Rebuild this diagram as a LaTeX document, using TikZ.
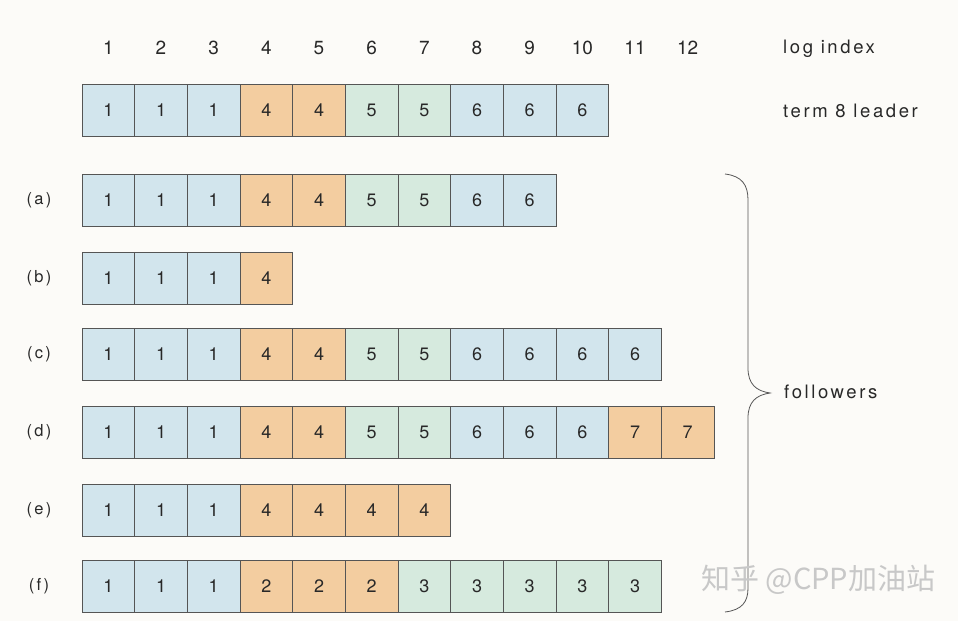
\documentclass[tikz,border=0pt]{standalone}
\usepackage{fontspec}
\setmainfont{TeX Gyre Heros}
\newfontfamily\lblfont[LetterSpace=14]{TeX Gyre Heros}
\newfontfamily\rowfont[LetterSpace=14]{TeX Gyre Heros}
\newfontfamily\cjkfont{Noto Sans CJK SC}
\definecolor{bgc}{RGB}{252,251,248}
\definecolor{bordc}{RGB}{85,85,85}
\definecolor{cblue}{RGB}{210,229,237}
\definecolor{corange}{RGB}{243,205,160}
\definecolor{cgreen}{RGB}{214,234,222}
\colorlet{c1}{cblue}
\colorlet{c2}{corange}
\colorlet{c3}{cgreen}
\colorlet{c4}{corange}
\colorlet{c5}{cgreen}
\colorlet{c6}{cblue}
\colorlet{c7}{corange}
\definecolor{txtc}{RGB}{40,40,40}
\definecolor{wmc}{RGB}{200,200,200}
\tikzset{
  cell/.style={draw=bordc, line width=0.8pt, minimum width=52.67pt, minimum height=52pt,
    inner sep=0pt, text=txtc, font=\fontsize{18}{18}\selectfont},
  hdr/.style={inner sep=0pt, text=txtc, font=\fontsize{19}{19}\selectfont},
  lbl/.style={inner sep=0pt, anchor=west, text=txtc, font=\lblfont\fontsize{18.5}{18.5}\selectfont},
  rowlbl/.style={inner sep=0pt, text=txtc, font=\rowfont\fontsize{16.5}{16.5}\selectfont},
  brace/.style={draw=bordc, line width=0.8pt},
  wm/.style={inner sep=0pt, anchor=west, text=wmc, font=\cjkfont\fontsize{29}{29}\selectfont}
}
\begin{document}
\begin{tikzpicture}[x=1pt,y=-1pt]
\fill[bgc] (0,0) rectangle (958,621);
\useasboundingbox (0,0) rectangle (958,621);
% header indices
\foreach \i in {1,...,12}
  \node[hdr] (idx-\i) at ({82+52.67*(\i-0.5)},48) {\i};
% rows of log entries
\foreach \r/\y/\lst in {
  L/110/{1,1,1,4,4,5,5,6,6,6},
  a/200/{1,1,1,4,4,5,5,6,6},
  b/278/{1,1,1,4},
  c/354/{1,1,1,4,4,5,5,6,6,6,6},
  d/432/{1,1,1,4,4,5,5,6,6,6,7,7},
  e/510/{1,1,1,4,4,4,4},
  f/586/{1,1,1,2,2,2,3,3,3,3,3}}{
  \foreach \t [count=\i] in \lst
    \node[cell, fill=c\t] (\r-\i) at ({82+52.67*(\i-0.5)},\y) {\t};
}
% row labels
\foreach \r/\y in {a/200,b/278,c/354,d/432,e/510,f/586}
  \node[rowlbl] (lbl-\r) at (39,\y) {(\r)};
\node[lbl] (logindex) at (783,49) {log index};
\node[lbl] (leader) at (783,111) {term 8 leader};
\node[lbl] (followers) at (784,392) {followers};
% brace
\coordinate (btop) at (725,174);
\coordinate (btip) at (770,393);
\coordinate (bbot) at (725,612);
\draw[brace] (btop) .. controls (742,176) and (748,185) .. (748,200) -- (748,368)
  .. controls (748,384) and (756,391) .. (btip)
  .. controls (756,395) and (748,402) .. (748,418) -- (748,588)
  .. controls (748,602) and (742,610) .. (bbot);
% watermark
\node[wm] (watermark) at (701,580) {知乎 @CPP加油站};
\end{tikzpicture}
\end{document}
